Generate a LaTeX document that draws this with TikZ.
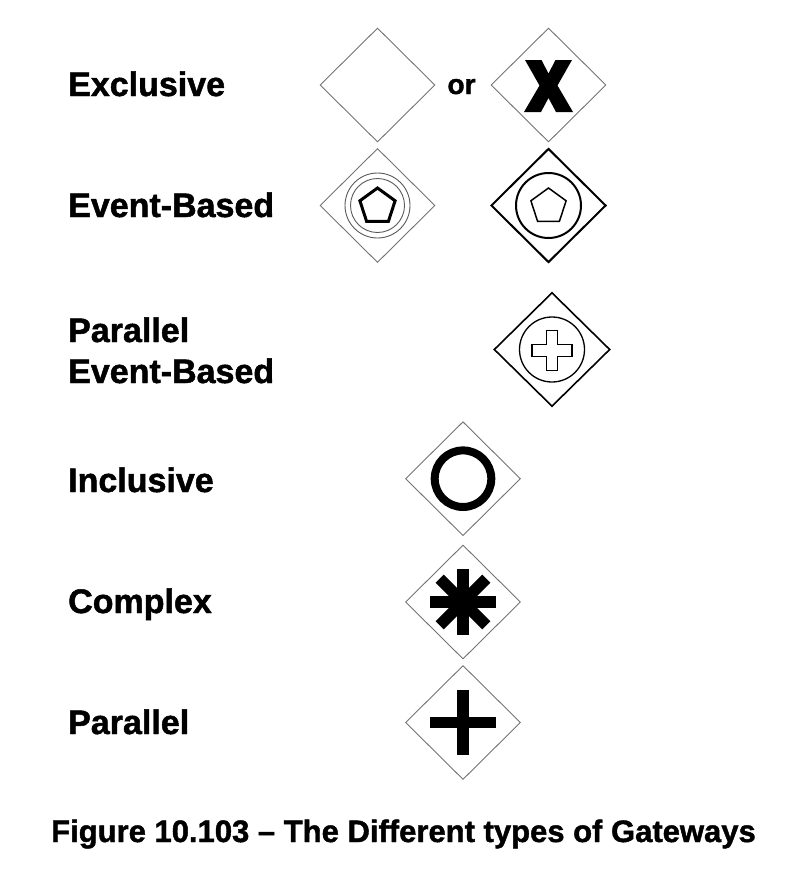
\documentclass[tikz,border=0pt]{standalone}
\usepackage{fontspec}
\setmainfont{Liberation Sans}[BoldFeatures={FakeBold=1.4}]
\usetikzlibrary{shapes.geometric}
\begin{document}
\begin{tikzpicture}[x=1pt,y=-1pt,
  gate/.style={shape=diamond, aspect=1, inner sep=0pt, minimum width=115pt, minimum height=114pt, draw=black!55, line width=0.9pt},
  lbl/.style={anchor=base west, inner sep=0pt, font=\fontsize{34}{40}\selectfont\bfseries},
  thinring/.style={draw=black!65, line width=0.9pt},
  bar/.style={line width=11.5pt, line cap=butt}]
\useasboundingbox (0,0) rectangle (790,870);

% labels
\node[lbl] (lex) at (68,96) {Exclusive};
\node[lbl] (leb) at (68,217) {Event-Based};
\node[lbl] (lpe1) at (68,342) {Parallel};
\node[lbl] (lpe2) at (68,383) {Event-Based};
\node[lbl] (linc) at (68,492) {Inclusive};
\node[lbl] (lcx) at (68,613) {Complex};
\node[lbl] (lpar) at (68,734) {Parallel};

% Exclusive
\node[gate] (ex1) at (377.5,85) {};
\node[anchor=base, inner sep=0pt, font=\fontsize{28}{32}\selectfont\bfseries] (or) at (461.5,94) {or};
\node[gate] (ex2) at (548.5,85) {};
\fill[black, shift={(ex2.center)}, yshift=-1pt]
  (-23.5,-26) -- (-7,-26) -- (0,-12.5) -- (7,-26) -- (23.5,-26) -- (9,-0.5)
  -- (24.5,26) -- (7.5,26) -- (0,12) -- (-7.5,26) -- (-24.5,26) -- (-9,-0.5) -- cycle;

% Event-Based (thin)
\node[gate] (eb1) at (377.5,205.5) {};
\draw[thinring] (eb1.center) circle[radius=32.5];
\draw[thinring] (eb1.center) circle[radius=27];
\draw[line width=3pt, line join=miter, shift={(eb1.center)}, yshift=-1pt]
  (270:18.5) -- (342:18.5) -- (54:18.5) -- (126:18.5) -- (198:18.5) -- cycle;

% Event-Based (thick)
\node[gate, draw=black, line width=2pt] (eb2) at (548.5,205.5) {};
\draw[line width=2pt] (eb2.center) circle[radius=32.5];
\draw[line width=1.5pt, shift={(eb2.center)}, yshift=-1pt]
  (270:18.5) -- (342:18.5) -- (54:18.5) -- (126:18.5) -- (198:18.5) -- cycle;

% Parallel Event-Based
\node[gate, draw=black, line width=1.6pt, minimum width=116pt] (peb) at (552,349.5) {};
\draw[line width=1.3pt] (peb.center) circle[radius=32.5];
\draw[line width=1.3pt, shift={(peb.center)}, yshift=-1pt]
  (-5.75,-20) -- (5.75,-20) -- (5.75,-5.75) -- (20,-5.75) -- (20,5.75) -- (5.75,5.75)
  -- (5.75,20) -- (-5.75,20) -- (-5.75,5.75) -- (-20,5.75) -- (-20,-5.75) -- (-5.75,-5.75) -- cycle;

% Inclusive
\node[gate] (inc) at (463,478.7) {};
\draw[line width=8pt] (inc.center) circle[radius=28.3];

% Complex
\node[gate] (cpx) at (463,602) {};
\foreach \a in {0,45,90,135}{
  \draw[bar, shift={(cpx.center)}] (\a:-33) -- (\a:33);
}

% Parallel
\node[gate] (par) at (463,722.5) {};
\draw[bar, shift={(par.center)}] (0,-32.5) -- (0,32.5);
\draw[bar, shift={(par.center)}] (-33,0) -- (33,0);

% caption
\node[anchor=base west, inner sep=0pt, font=\fontsize{31}{36}\selectfont\bfseries] (cap) at (51,842)
  {Figure 10.103 -- The Different types of Gateways};
\end{tikzpicture}
\end{document}
